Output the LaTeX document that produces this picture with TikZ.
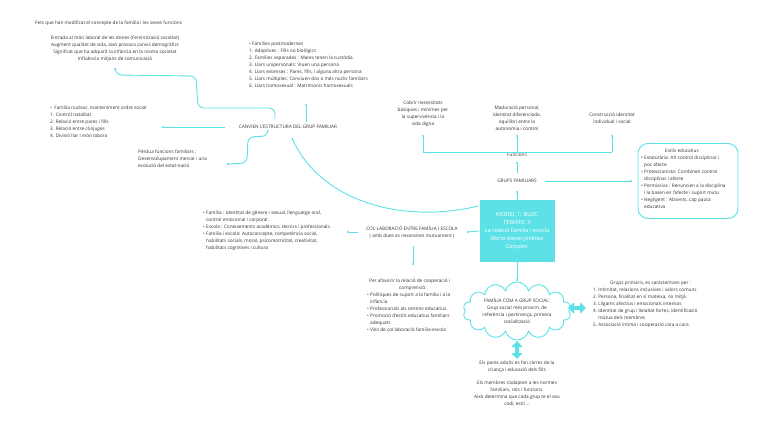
\documentclass[tikz,border=0pt]{standalone}
\usepackage{fontspec}
\setmainfont{Open Sans}
\usetikzlibrary{shapes.symbols,arrows.meta}
\definecolor{cy}{HTML}{5CE1E6}
\definecolor{tx}{HTML}{333333}
\begin{document}
\begin{tikzpicture}[x=1pt,y=-1pt,
  t/.style={font=\fontsize{4.7}{7}\selectfont,text=tx,inner sep=0pt,align=center},
  tl/.style={t,align=left},
  ln/.style={draw=cy,line width=0.9pt,-{Circle[length=2pt]},rounded corners=6pt},
  fat/.style={draw=cy,line width=4pt,{Triangle[width=11pt,length=6pt]}-{Triangle[width=11pt,length=6pt]}}]
\useasboundingbox (0,0) rectangle (768,431);
\node[t,anchor=west] (fets) at (35,23) {Fets que han modificat el concepte de la família i les seves funcions};
\node[t,anchor=north] (entr) at (115,36) {Entrada al món laboral de les dones (Feminització societat)\\Augment qualitat de vida, això provoca canvis demogràfics\\Significat que ha adquirit la infància en la nostra societat\\Influència mitjans de comunicació};
\node[tl,anchor=north west] (post) at (249,42) {\textbullet\ Famílies postmodernes\\1. Adoptives : Fills no biològics\\2. Famílies separades : Mares tenen la custòdia\\3. Llars unipersonals: Viuen una persona\\4. Llars extenses : Pares, fills, i alguna altra persona\\5. Llars múltiples: Conviuen dos o més nuclis familiars\\6. Llars homosexual : Matrimonis homosexuals};
\node[t] (canv) at (288,127) {CANVIEN L'ESTRUCTURA DEL GRUP FAMILIAR};
\node[tl,anchor=north west] (nucl) at (50,106) {\textbullet\ \ Família nuclear, manteniment ordre social\\1. Control natalitat.\\2. Relació entre pares i fills\\3. Relació entre cònjuges\\4. Divisió llar i món labora};
\node[tl,anchor=north west] (perd) at (138,150) {Pèrdua funcions familiars :\\Desenvolupament mercat i una\\evolució del estat-nació};
\draw[ln] (275,119) -- (275,108) -- (198,108) -- (196,76) -- (116,75) -- (115,68);
\draw[ln] (306,122) -- (306,104);
\draw[ln] (225,127) -- (162,127);
\draw[ln] (268,131) -- (268,136) -- (248,137) -- (247,163) -- (227,164);
\node[t,fill=cy,text=white,minimum width=75pt,minimum height=62pt,font=\fontsize{5.6}{8}\selectfont] (model) at (517,231) {MODEL 1: BLOC\\TEMÀTIC 3\\La relació família i escola\\\textit{Maria Nieves Jiménez}\\\textit{Campins}};
\draw[ln] (model.north west) ++(0,6) .. controls (400,225) and (320,200) .. (292,138);
\node[t] (grups) at (517,181) {GRUPS FAMILIARS};
\draw[ln] (model.north) -- (517,191);
\node[t] (func) at (517,155) {Funcions};
\draw[ln] (517,173) -- (517,162);
\draw[draw=cy,line width=0.9pt] (423,152) -- (612,152);
\draw[ln] (423,152) -- (423,135);
\draw[ln] (517,152) -- (517,135);
\draw[ln] (612,152) -- (612,135);
\node[t,anchor=south] (cob) at (423,127) {Cobrir necessitats\\bàsiques i mínimes per\\la supervivència i la\\vida digna};
\node[t,anchor=south] (mad) at (517,131) {Maduració personal,\\identitat diferenciada,\\equilibri entre la\\autonomia i control};
\node[t,anchor=south] (cons) at (612,124) {Construcció identitat\\individual i social};
\node[draw=cy,line width=0.9pt,rounded corners=10pt,minimum width=100pt,minimum height=75pt] (estb) at (688,181) {};
\node[tl,anchor=north west] (est) at (641,149) {\hspace*{24pt}Estils educatius\\\textbullet\ Estatutària: Alt control disciplinar i\\\phantom{\textbullet\ }poc afecte\\\textbullet\ Proteccionista: Combinen control\\\phantom{\textbullet\ }disciplinar i afecte\\\textbullet\ Permissiva : Renuncien a la disciplina\\\phantom{\textbullet\ }i la basen en l'afecte i suport mutu\\\textbullet\ Negligent : Absents, cap pauta\\\phantom{\textbullet\ }educativa};
\draw[ln] (545,181) -- (632,181);
\node[t] (col) at (412,232) {COL·LABORACIÓ ENTRE FAMÍLIA I ESCOLA\\( amb dues es necessiten mutuament )};
\draw[ln] (model.west) -- (467,232);
\draw[ln] (358,232) -- (347,232);
\node[tl,anchor=north west] (fam) at (203,211) {\textbullet\ Família : Identitat de gènere i sexual, llenguatge oral,\\\phantom{\textbullet\ }control emocional i corporal.\\\textbullet\ Escola : Coneixements acadèmics, tècnics i professionals.\\\textbullet\ Família i escola: Autoconcepte, competència social,\\\phantom{\textbullet\ }habilitats socials, moral, psicomotricitat, creativitat,\\\phantom{\textbullet\ }habilitats cognitives i cultura};
\draw[ln] (413,246) -- (413,265);
\node[tl,anchor=north west] (per) at (367,279) {\hspace*{2pt}Per afavorir la relació de cooperació i\\\hspace*{32pt}comprensió:\\\textbullet\ Polítiques de suport a la família i a la\\\phantom{\textbullet\ }infància\\\textbullet\ Professionals als centres educatius.\\\textbullet\ Promoció d'estils educatius familiars\\\phantom{\textbullet\ }adequats\\\textbullet\ Vies de col·laboració família-escola};
\draw[ln] (model.south) -- (517,281);
\node[cloud,draw=cy,line width=0.9pt,cloud puffs=14,aspect=2,minimum width=108pt,minimum height=58pt,inner sep=0pt] (cl) at (517,311) {};
\node[t] (clt) at (517,311) {FAMÍLIA COM A GRUP SOCIAL:\\Grup social més proxim, de\\referència i pertinença, primera\\socialització};
\coordinate (r1) at (568,308); \coordinate (r2) at (586,308);
\coordinate (d1) at (517,341); \coordinate (d2) at (517,359);
\draw[fat] (r1) -- (r2);
\draw[fat] (d1) -- (d2);
\node[tl,anchor=north west] (gp) at (593,281) {\hspace*{17pt}Grups primaris, es caracteritzen per :\\1.\ Intimitat, relacions inclusives i valors comuns\\2.\ Persona, finalitat en sí mateixa, no mitjà.\\3.\ Lligams afectius i emocionals intensos\\4.\ Identitat de grup i lleialtat fortes, identificació\\\phantom{4.\ }mútua dels membres\\5.\ Associació íntima i cooperació cara a cara};
\node[t,anchor=north] (pares) at (517,361) {Els pares adults es fan càrrec de la\\criança i educació dels fills};
\node[t,anchor=north] (memb) at (517,381) {Els membres s'adapten a les normes\\familiars, rols i funcions.\\Això determina que cada grup te el seu\\codi, estil ...};
\end{tikzpicture}
\end{document}
